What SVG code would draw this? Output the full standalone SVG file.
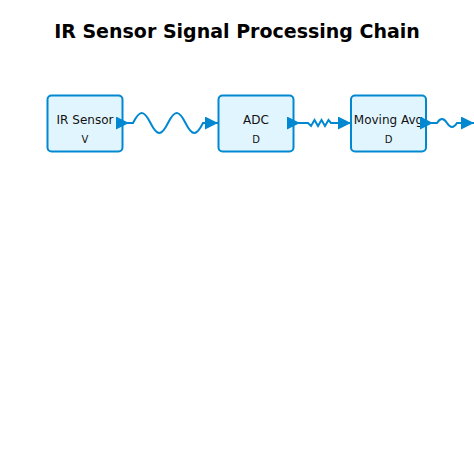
<svg xmlns="http://www.w3.org/2000/svg" width="474" height="474" viewBox="0 0 474 474">
  <style>
    .box { fill: #e1f5fe; stroke: #0288d1; stroke-width: 2; }
    .lbl { font-family: "DejaVu Sans", Verdana, sans-serif; font-size: 12px; fill: #111; text-anchor: middle; }
    .sub { font-family: "DejaVu Sans", Verdana, sans-serif; font-size: 10px; fill: #111; text-anchor: middle; }
    .title { font-family: "DejaVu Sans", Verdana, sans-serif; font-size: 19px; font-weight: bold; fill: #000; text-anchor: middle; }
    .conn { fill: none; stroke: #0288d1; stroke-width: 2; }
  </style>
  <defs>
    <marker id="headStart" viewBox="0 0 10 10" refX="0" refY="5" markerUnits="userSpaceOnUse" markerWidth="17" markerHeight="13" orient="auto">
      <path d="M0,0 L10,5 L0,10 z" fill="#0288d1"/>
    </marker>
    <marker id="headEnd" viewBox="0 0 10 10" refX="10" refY="5" markerUnits="userSpaceOnUse" markerWidth="17" markerHeight="13" orient="auto">
      <path d="M0,0 L10,5 L0,10 z" fill="#0288d1"/>
    </marker>
  </defs>
  <rect width="474" height="474" fill="#ffffff"/>
  <text class="title" x="237" y="38">IR Sensor Signal Processing Chain</text>

  <g id="node-ir">
    <rect class="box" x="47.5" y="95.5" width="75" height="56" rx="4"/>
    <text class="lbl" x="85" y="124">IR Sensor</text>
    <text class="sub" x="85" y="143">V</text>
  </g>
  <g id="node-adc">
    <rect class="box" x="218.5" y="95.5" width="75" height="56" rx="4"/>
    <text class="lbl" x="256" y="124">ADC</text>
    <text class="sub" x="256" y="143">D</text>
  </g>
  <g id="node-avg">
    <rect class="box" x="351" y="95.5" width="75" height="56" rx="4"/>
    <text class="lbl" x="388.5" y="124">Moving Avg</text>
    <text class="sub" x="388.5" y="143">D</text>
  </g>

  <g id="connectors">
    <path class="conn" marker-start="url(#headStart)" marker-end="url(#headEnd)" d="M116,123 L133,123 c3,-6 5.5,-10 8.75,-10 c3.25,0 5.75,4 8.75,10 c3,6 5.5,10 8.75,10 c3.25,0 5.75,-4 8.75,-10 c3,-6 5.5,-10 8.75,-10 c3.25,0 5.75,4 8.75,10 c3,6 5.5,10 8.75,10 c3.25,0 5.75,-4 8.75,-10 L218,123"/>
    <path class="conn" marker-start="url(#headStart)" marker-end="url(#headEnd)" d="M287,123 L308,123 L311,126 L314.5,120 L318,126 L321.5,120 L325,126 L328.5,120 L331,123 L351,123"/>
    <path class="conn" marker-start="url(#headStart)" marker-end="url(#headEnd)" d="M420,123 L437,123 q5,-8 10,0 t10,0 L474,123"/>
  </g>
</svg>
